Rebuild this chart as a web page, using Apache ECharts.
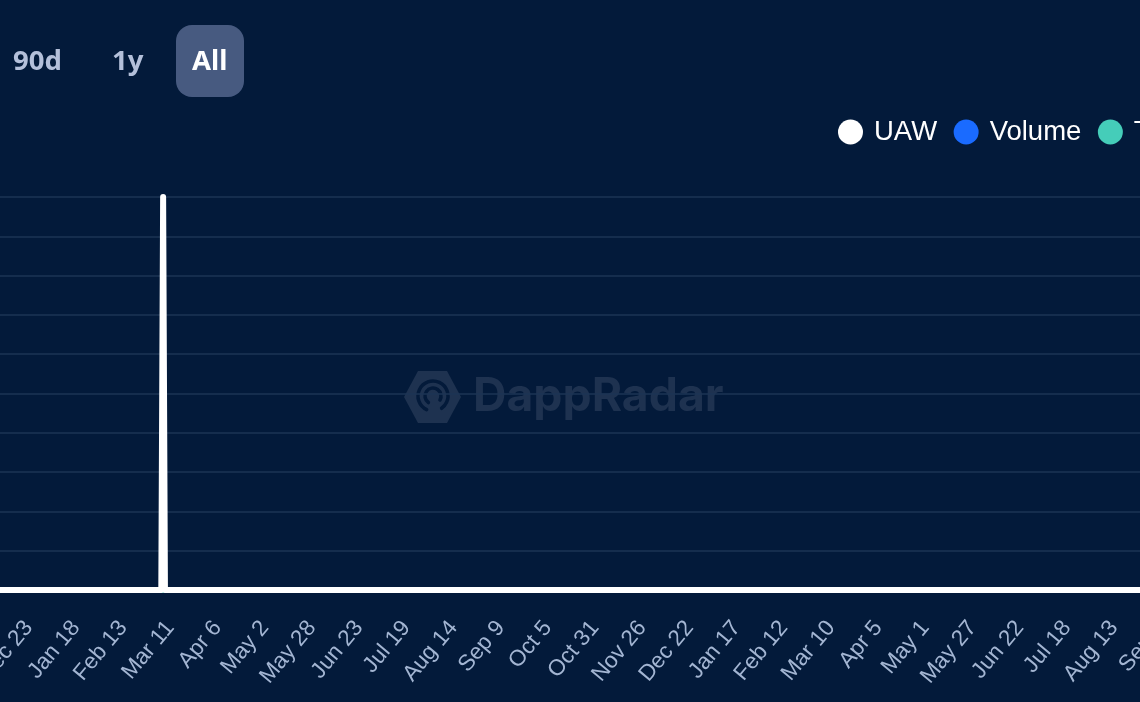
<!DOCTYPE html>
<html lang="en" style="height: 100%">
<head>
  <meta charset="utf-8">
</head>
<body style="height: 100%; margin: 0; background: #031a3a">
<div id="container" style="height: 100%"></div>
<script src="https://cdn.jsdelivr.net/npm/echarts@6/dist/echarts.min.js"></script>
<script>
  const seriesNames = ['UAW', 'Volume', 'Transactions'];
  const seriesColors = ['#ffffff', '#1a6bff', '#45cdb9'];
  const firstDay = '2021-10-16';
  const lastDay = '2023-10-09';
  const tickDates = [
    '2021-12-23', '2022-01-18', '2022-02-13', '2022-03-11', '2022-04-06', '2022-05-02',
    '2022-05-28', '2022-06-23', '2022-07-19', '2022-08-14', '2022-09-09', '2022-10-05',
    '2022-10-31', '2022-11-26', '2022-12-22', '2023-01-17', '2023-02-12', '2023-03-10',
    '2023-04-05', '2023-05-01', '2023-05-27', '2023-06-22', '2023-07-18', '2023-08-13',
    '2023-09-08'
  ];
  const tickLabels = [
    'Dec 23', 'Jan 18', 'Feb 13', 'Mar 11', 'Apr 6', 'May 2',
    'May 28', 'Jun 23', 'Jul 19', 'Aug 14', 'Sep 9', 'Oct 5',
    'Oct 31', 'Nov 26', 'Dec 22', 'Jan 17', 'Feb 12', 'Mar 10',
    'Apr 5', 'May 1', 'May 27', 'Jun 22', 'Jul 18', 'Aug 13',
    'Sep 8'
  ];
  const uawValues = [
    ['2021-10-16', 0], ['2022-03-06', 0], ['2022-03-07', 100], ['2022-03-08', 0], ['2023-10-09', 0]
  ];
  const volumeValues = [['2021-10-16', 0], ['2023-10-09', 0]];
  const transactionValues = [['2021-10-16', 0], ['2023-10-09', 0]];

  // one category per day, the axis only labels every 26th
  let days = [];
  for (let t = Date.parse(firstDay); t <= Date.parse(lastDay); t += 86400000) {
    days.push(new Date(t).toISOString().slice(0, 10));
  }

  var myChart = echarts.init(document.getElementById('container'), null, { renderer: 'canvas' });

  function lineSeries(name, data, z) {
    return {
      name: name,
      type: 'line',
      data: data,
      z: z,
      clip: false,
      silent: true,
      showSymbol: false,
      lineStyle: { width: 6, cap: 'round', join: 'round' }
    };
  }

  const deg = Math.PI / 180;
  const logoStroke = { fill: 'none', stroke: '#031a3a', lineWidth: 3.5, lineCap: 'round' };

  var option = {
    animation: false,
    backgroundColor: '#031a3a',
    color: seriesColors,
    legend: {
      left: 838,
      top: 118,
      width: 600,
      padding: 0,
      icon: 'circle',
      itemWidth: 25,
      itemHeight: 25,
      itemGap: 16.5,
      selectedMode: false,
      data: seriesNames,
      textStyle: { color: '#ffffff', fontSize: 27.5, fontFamily: 'Liberation Sans', padding: [0, 0, 0, 6] }
    },
    grid: { left: -94.6, right: -77.6, top: 197, height: 393, outerBoundsMode: 'none' },
    xAxis: {
      type: 'category',
      data: days,
      boundaryGap: false,
      axisLine: { show: false },
      axisTick: { show: false },
      splitLine: { show: false },
      axisLabel: {
        interval: (index, value) => tickDates.includes(value),
        rotate: 50,
        margin: 34,
        hideOverlap: false,
        color: '#a3b5d2',
        fontSize: 22.5,
        fontFamily: 'Liberation Sans',
        formatter: value => tickLabels[tickDates.indexOf(value)]
      }
    },
    yAxis: {
      type: 'value',
      min: 0,
      max: 100,
      interval: 10,
      axisLine: { show: false },
      axisTick: { show: false },
      axisLabel: { show: false },
      splitLine: { lineStyle: { color: '#1c3455', width: 1.5 } }
    },
    series: [
      lineSeries('UAW', uawValues, 5),
      lineSeries('Volume', volumeValues, 3),
      lineSeries('Transactions', transactionValues, 4)
    ],
    graphic: [
      // range buttons
      { type: 'text', left: 13, top: 48, style: { text: '90d', fill: '#b4c0da', font: 'bold 27.5px "Noto Sans"' } },
      { type: 'text', left: 112, top: 48, style: { text: '1y', fill: '#b4c0da', font: 'bold 27.5px "Noto Sans"' } },
      { type: 'rect', left: 176, top: 25, shape: { width: 68, height: 72, r: 16 }, style: { fill: '#475a80' } },
      { type: 'text', left: 192, top: 48, style: { text: 'All', fill: '#ffffff', font: 'bold 27.5px "Noto Sans"' } },
      // watermark
      {
        type: 'polygon', z: -1,
        shape: { points: [[418, 371], [447, 371], [461, 397], [447, 423], [418, 423], [404, 397]] },
        style: { fill: '#1e3250' }
      },
      { type: 'arc', z: -1, shape: { cx: 433, cy: 396, r: 15, startAngle: 115 * deg, endAngle: 55 * deg, clockwise: true }, style: logoStroke },
      { type: 'arc', z: -1, shape: { cx: 433, cy: 396, r: 8, startAngle: 125 * deg, endAngle: 30 * deg, clockwise: true }, style: logoStroke },
      { type: 'text', z: -1, left: 473, top: 374, style: { text: 'DappRadar', fill: '#1e3250', font: 'bold 46.3px Inter' } }
    ]
  };
  myChart.setOption(option);
  window.addEventListener('resize', myChart.resize);
</script>
</body>
</html>
